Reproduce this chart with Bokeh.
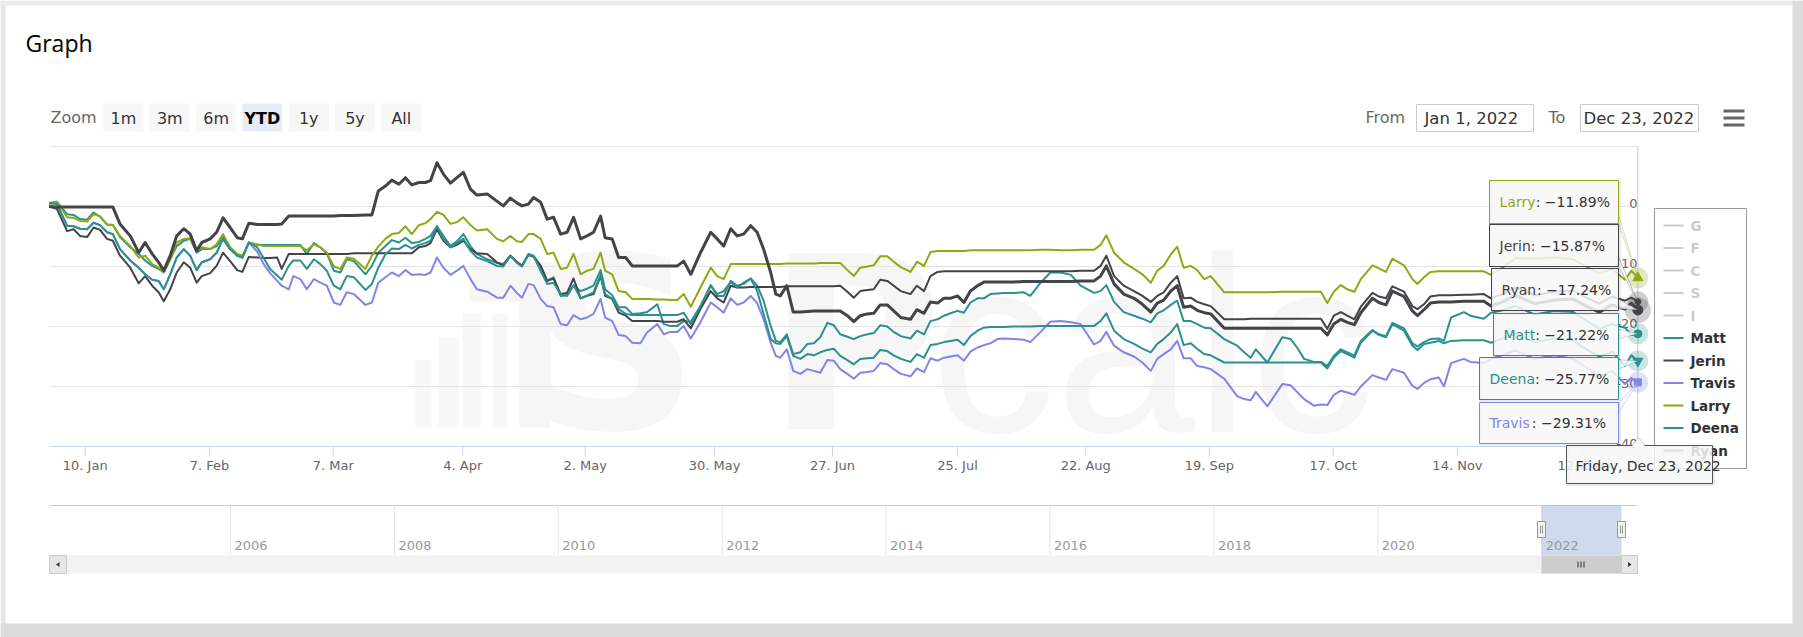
import math
from bokeh.plotting import figure
from bokeh.models import (Range1d, Label, BoxAnnotation, PolyAnnotation, ColumnDataSource)
from bokeh.embed import file_html
from bokeh.resources import INLINE
from bokeh.core.properties import value

# ---------------- data (trading-session index, % change YTD) ----------------
session = [
    -0.6, 0.6, 2.2, 3.2, 4.2, 5.3, 6.3, 7.3, 8.4, 9.3,
    10.4, 12.0, 13.3, 14.3, 15.4, 16.4, 17.2, 18.2, 19.2, 20.3,
    21.3, 22.3, 23.1, 24.4, 25.4, 26.4, 27.5, 28.6, 29.4, 30.4,
    31.7, 32.7, 33.7, 34.8, 35.5, 36.6, 37.3, 38.4, 39.4, 40.5,
    41.5, 42.5, 43.6, 44.6, 45.6, 46.7, 48.5, 49.5, 50.5, 51.6,
    52.6, 53.7, 54.7, 55.7, 56.8, 57.8, 58.6, 59.6, 60.6, 61.7,
    62.7, 63.7, 64.8, 65.8, 67.4, 68.9, 69.9, 71.0, 72.0, 72.8,
    73.8, 74.6, 75.7,
    76.7, 77.7, 78.8, 79.8, 80.8, 81.9, 82.9, 83.9, 85.0, 85.7,
    86.8, 87.8, 88.9, 89.9, 91.2, 92.2, 93.8, 94.8, 95.8, 96.9,
    97.9, 99.0, 100.5, 102.1, 103.1, 104.1, 105.2, 106.2, 107.2, 108.3,
    109.3, 110.3, 111.4, 112.2, 112.9, 113.9, 114.9, 116.0, 117.1, 118.1,
    119.1, 120.2, 121.2, 122.2, 123.3, 124.3, 125.3, 126.4, 127.4, 128.4,
    129.5, 130.5, 131.6, 133.1, 134.1, 135.2, 136.2, 137.3, 138.3, 139.3,
    140.4, 141.4, 142.4, 143.5, 144.5, 145.5, 146.6, 147.6, 149.1, 150.7,
    151.7, 153.3, 154.8,
    156.4, 158.0, 159.5, 161.6, 162.6, 163.5, 164.7, 166.2, 167.8, 169.1,
    170.4, 171.4, 172.4, 173.5, 174.5, 175.5, 176.6, 177.6, 178.7, 179.7,
    181.8, 183.8, 184.9, 185.9, 186.7, 188.5, 190.8, 192.1, 193.1, 194.2,
    195.7, 196.8, 197.8, 198.8, 199.9, 200.9, 202.0, 203.0, 204.8, 205.8,
    206.9, 207.9, 209.7, 211.0, 211.8, 212.8, 213.8, 215.1, 215.9, 217.0,
    219.0, 220.0, 222.1, 223.2,
    225, 227, 230, 233, 236, 238, 240, 242, 244, 245, 246,
]

matt = [
    0.6, 0.8, -1.3, -1.4, -2.1, -2.2, -1.0, -1.7, -3.0, -3.1,
    -5.1, -6.8, -7.9, -9.0, -9.9, -10.4, -11.0, -8.8, -6.6, -5.7,
    -5.4, -7.7, -7.1, -7.1, -6.6, -5.0, -7.1, -8.1, -8.5, -6.0,
    -6.4, -6.4, -6.4, -6.4, -6.4, -6.4, -6.4, -6.4, -7.9, -6.1,
    -6.8, -7.8, -10.7, -11.0, -8.8, -9.1, -11.3, -9.9, -7.7, -6.6,
    -5.6, -6.0, -5.2, -6.1, -5.9, -5.4, -4.9, -3.3, -4.9, -6.6,
    -5.8, -4.6, -6.6, -7.9, -8.8, -9.4, -9.6, -8.2, -9.3, -9.9,
    -7.9, -8.2, -9.9,
    -12.4, -11.8, -14.9, -14.8, -13.2, -14.1, -13.7, -13.2, -10.6, -13.8,
    -14.8, -16.8, -16.8, -17.9, -17.8, -17.6, -16.3, -19.6, -19.9, -19.9,
    -19.1, -19.2, -16.6, -13.1, -14.9, -14.9, -12.4, -13.2, -12.9, -12.0,
    -13.2, -15.7, -19.9, -22.4, -22.6, -21.3, -24.6, -24.3, -22.9, -22.8,
    -21.8, -19.4, -19.8, -21.3, -21.7, -22.1, -21.6, -21.3, -21.1, -19.8,
    -20.0, -20.9, -21.6, -22.0, -20.7, -21.3, -19.1, -18.8, -18.2, -17.8,
    -17.4, -17.7, -16.0, -15.3, -15.3, -14.6, -14.5, -14.4, -14.4, -14.3,
    -14.9, -12.7, -11.0,
    -11.0, -11.4, -13.2, -14.4, -14.1, -13.1, -15.9, -17.6, -18.2, -18.7,
    -19.3, -17.8, -17.3, -16.4, -15.7, -19.1, -19.1, -19.6, -20.2, -20.3,
    -22.1, -23.2, -24.3, -25.2, -23.8, -26.0, -21.8, -22.1, -23.5, -25.4,
    -25.9, -25.9, -26.6, -24.9, -23.8, -24.3, -24.8, -22.4, -20.6, -21.3,
    -21.6, -19.4, -20.3, -22.8, -23.3, -22.6, -22.1, -22.0, -22.4, -18.5,
    -17.6, -18.2, -18.7, -17.7,
    -17.3, -16.6, -18.0, -17.4, -17.6, -19.0, -20.4, -19.6, -20.2, -21.4, -21.22,
]

jerin = [
    0.0, -0.4, -4.1, -3.8, -4.9, -5.1, -3.5, -3.9, -5.4, -5.7,
    -8.2, -10.2, -12.8, -11.6, -13.2, -14.3, -15.8, -13.8, -11.0, -9.3,
    -10.2, -12.7, -11.6, -11.1, -9.9, -7.7, -9.1, -10.6, -10.9, -8.4,
    -8.5, -8.6, -8.6, -8.5, -10.4, -7.9, -7.9, -7.9, -7.9, -7.9,
    -7.9, -7.9, -7.9, -7.9, -7.9, -7.8, -7.8, -7.8, -7.8, -7.8,
    -7.8, -7.8, -7.8, -7.8, -6.8, -6.6, -6.1, -3.8, -5.7, -6.8,
    -6.4, -5.7, -7.1, -7.8, -7.9, -9.3, -9.8, -8.2, -9.2, -9.9,
    -8.1, -8.4, -9.9,
    -12.4, -12.0, -14.6, -14.4, -12.0, -15.3, -14.9, -14.6, -11.6, -14.9,
    -15.4, -17.7, -18.2, -19.1, -19.1, -19.1, -19.1, -19.2, -19.2, -19.2,
    -18.8, -20.3, -17.1, -14.1, -15.3, -16.0, -13.2, -13.5, -13.5, -13.4,
    -13.4, -13.4, -13.4, -13.4, -13.4, -13.3, -13.3, -13.3, -13.3, -13.3,
    -13.3, -13.3, -13.3, -13.2, -14.2, -15.2, -14.1, -13.9, -13.8, -12.2,
    -12.4, -13.2, -14.1, -14.6, -13.2, -14.1, -11.6, -10.9, -10.8, -10.8,
    -10.8, -10.8, -10.8, -10.8, -10.8, -10.8, -10.8, -10.8, -10.8, -10.8,
    -10.8, -10.8, -10.8,
    -10.8, -10.8, -10.7, -10.7, -9.9, -8.2, -11.6, -13.2, -14.1, -14.9,
    -15.9, -14.9, -14.3, -12.7, -11.6, -15.3, -15.2, -15.9, -16.3, -16.6,
    -18.8, -18.8, -18.8, -18.7, -18.7, -18.7, -18.7, -18.7, -18.7, -18.7,
    -18.7, -18.7, -20.4, -18.2, -17.6, -18.2, -18.8, -16.7, -14.4, -15.0,
    -15.3, -13.3, -14.2, -16.6, -17.1, -16.3, -15.0, -14.8, -14.8, -14.8,
    -14.7, -14.7, -14.6, -15.3,
    -14.6, -13.5, -14.8, -14.2, -14.0, -15.2, -16.2, -15.0, -15.7, -15.2, -15.87,
]

travis = [
    0.6, 0.4, -3.2, -3.3, -3.7, -3.8, -2.7, -3.1, -4.3, -4.6,
    -7.1, -9.0, -10.2, -11.3, -12.2, -12.4, -13.8, -11.3, -8.5, -7.1,
    -8.2, -10.6, -9.3, -8.8, -7.7, -5.4, -7.1, -8.2, -8.5, -6.0,
    -7.5, -9.6, -11.1, -12.4, -13.2, -13.8, -11.6, -12.1, -13.8, -12.1,
    -12.7, -13.2, -16.0, -16.4, -14.3, -14.6, -16.4, -16.0, -12.7, -11.8,
    -11.0, -11.6, -10.6, -11.4, -11.3, -11.4, -11.0, -8.5, -10.2, -11.4,
    -10.7, -9.9, -12.1, -13.8, -14.2, -15.2, -15.2, -13.2, -14.4, -15.2,
    -12.9, -13.1, -15.4,
    -16.6, -16.8, -19.6, -19.8, -18.1, -18.8, -18.5, -17.9, -15.4, -18.5,
    -19.1, -21.4, -21.6, -22.7, -22.8, -21.0, -19.6, -21.3, -20.9, -20.9,
    -19.9, -22.0, -19.3, -16.0, -16.8, -17.7, -15.3, -16.4, -16.0, -14.9,
    -16.1, -18.8, -22.7, -24.9, -25.2, -23.8, -27.4, -27.9, -27.1, -27.4,
    -27.7, -25.6, -25.7, -27.1, -27.9, -28.7, -27.7, -27.6, -27.4, -26.1,
    -26.3, -27.1, -27.9, -28.3, -27.0, -27.6, -25.3, -25.7, -25.2, -25.0,
    -24.8, -25.7, -24.2, -23.5, -23.1, -22.8, -22.1, -22.0, -22.1, -22.2,
    -22.6, -20.9, -19.2,
    -19.1, -19.3, -19.6, -23.0, -22.4, -20.9, -23.2, -24.3, -25.0, -26.0,
    -27.4, -25.4, -24.6, -23.8, -22.4, -25.3, -25.3, -26.6, -26.8, -27.1,
    -28.7, -31.6, -32.1, -32.3, -30.9, -33.3, -29.6, -29.8, -30.9, -32.1,
    -33.2, -33.0, -33.1, -31.4, -30.7, -31.0, -31.4, -30.0, -28.1, -28.5,
    -28.9, -27.1, -27.7, -29.9, -30.4, -29.4, -28.8, -28.5, -30.0, -26.1,
    -25.4, -25.9, -26.1, -25.4,
    -24.8, -24.0, -25.4, -24.8, -25.4, -26.8, -28.2, -27.4, -29.6, -28.6, -29.31,
]

larry = [
    0.4, 0.8, -1.8, -1.9, -2.4, -2.5, -1.3, -1.6, -3.0, -3.1,
    -4.9, -6.6, -8.5, -8.2, -9.6, -10.2, -10.9, -8.8, -6.0, -5.4,
    -5.3, -7.3, -6.8, -7.1, -6.3, -4.6, -6.8, -7.9, -8.2, -6.1,
    -6.3, -6.6, -6.6, -6.6, -6.6, -6.6, -6.6, -6.6, -7.3, -6.3,
    -6.8, -7.7, -10.0, -10.4, -8.5, -8.7, -10.4, -8.2, -6.7, -5.4,
    -4.6, -4.4, -3.3, -4.6, -3.1, -2.8, -2.1, -0.9, -1.4, -2.9,
    -2.6, -1.8, -3.1, -4.0, -3.8, -5.4, -5.8, -4.9, -5.8, -5.9,
    -4.6, -4.6, -5.4,
    -7.9, -7.7, -10.4, -10.2, -7.9, -11.3, -10.7, -10.4, -7.7, -10.7,
    -11.3, -14.1, -14.3, -15.4, -15.4, -15.4, -15.5, -15.5, -15.6, -15.6,
    -14.6, -16.7, -13.5, -10.2, -11.6, -12.1, -9.6, -9.6, -9.6, -9.6,
    -9.6, -9.6, -9.6, -9.6, -9.6, -9.5, -9.5, -9.5, -9.5, -9.5,
    -9.4, -9.4, -9.4, -9.4, -10.6, -11.6, -10.2, -10.0, -9.8, -8.3,
    -8.3, -9.2, -10.1, -10.9, -9.2, -9.9, -7.6, -7.4, -7.4, -7.4,
    -7.4, -7.4, -7.3, -7.3, -7.3, -7.3, -7.3, -7.3, -7.3, -7.3,
    -7.3, -7.2, -7.2,
    -7.3, -7.3, -7.2, -7.2, -6.4, -4.8, -7.7, -9.3, -10.4, -11.3,
    -12.7, -10.7, -9.9, -8.0, -6.7, -10.2, -9.9, -10.6, -12.1, -11.6,
    -14.3, -14.3, -14.3, -14.3, -14.3, -14.3, -14.2, -14.2, -14.2, -14.2,
    -14.2, -14.2, -16.1, -14.2, -13.1, -13.8, -14.2, -12.1, -9.8, -10.3,
    -10.9, -8.7, -9.8, -12.1, -12.9, -11.8, -10.9, -10.8, -10.8, -10.8,
    -10.8, -10.8, -10.8, -11.4,
    -10.2, -8.6, -8.7, -8.5, -8.8, -10.0, -11.2, -10.4, -12.2, -10.7, -11.89,
]

deena = [
    0.6, 0.4, -3.2, -3.3, -3.7, -3.8, -2.7, -3.1, -4.3, -4.6,
    -7.1, -9.0, -10.2, -11.3, -12.2, -12.4, -13.8, -11.3, -8.5, -7.1,
    -8.2, -10.6, -9.3, -8.8, -7.7, -5.4, -7.1, -8.2, -8.5, -6.0,
    -6.8, -8.6, -10.4, -11.5, -12.2, -9.9, -9.0, -9.0, -10.4, -8.8,
    -9.6, -10.7, -13.2, -13.8, -11.6, -11.8, -13.9, -12.9, -10.2, -8.0,
    -7.0, -7.1, -6.4, -7.0, -6.4, -6.1, -5.7, -3.3, -5.4, -6.8,
    -6.1, -5.4, -7.4, -8.5, -9.1, -9.9, -10.0, -8.2, -9.4, -10.0,
    -8.0, -8.3, -10.7,
    -12.9, -12.7, -14.6, -14.9, -13.1, -15.3, -14.8, -14.3, -11.4, -14.6,
    -15.4, -17.1, -17.9, -18.1, -18.1, -18.1, -18.1, -18.1, -18.1, -18.1,
    -17.7, -19.6, -16.6, -13.2, -14.6, -14.1, -12.6, -13.5, -12.7, -12.0,
    -14.1, -17.9, -22.1, -22.8, -22.9, -21.6, -24.9, -25.4, -24.6, -24.8,
    -24.3, -23.9, -23.7, -24.9, -25.6, -26.3, -25.4, -25.3, -25.2, -23.9,
    -24.1, -24.8, -25.4, -25.9, -24.6, -25.2, -23.1, -22.9, -22.6, -22.4,
    -22.2, -23.1, -21.6, -20.7, -20.2, -20.1, -20.1, -20.1, -20.0, -20.0,
    -20.0, -19.9, -19.9,
    -19.9, -19.9, -19.9, -19.9, -19.1, -17.8, -20.7, -22.1, -22.9, -23.7,
    -24.3, -22.9, -22.1, -21.0, -19.6, -23.1, -22.8, -23.7, -24.6, -24.8,
    -26.0, -26.0, -26.0, -26.0, -26.0, -26.0, -26.0, -26.0, -26.0, -26.0,
    -26.0, -26.0, -27.0, -25.2, -24.1, -24.6, -25.2, -22.7, -20.7, -21.4,
    -21.8, -19.6, -20.7, -23.2, -23.9, -22.9, -22.7, -22.4, -22.8, -22.4,
    -22.3, -22.3, -22.3, -22.7,
    -22.0, -21.2, -22.6, -22.0, -22.4, -23.8, -25.0, -24.2, -26.6, -24.8, -25.77,
]

ryan = [
    0.0, -0.1, -0.1, -0.1, -0.1, -0.1, -0.1, -0.1, -0.1, -0.1,
    -2.9, -4.9, -7.7, -6.0, -7.9, -9.3, -10.7, -8.2, -4.9, -3.7,
    -4.6, -7.4, -6.0, -5.4, -4.3, -1.9, -3.5, -5.2, -5.4, -2.8,
    -3.0, -3.0, -3.0, -3.0, -2.9, -1.6, -1.6, -1.6, -1.6, -1.6,
    -1.6, -1.6, -1.6, -1.5, -1.5, -1.5, -1.4, -1.4, 2.6, 3.4,
    4.4, 3.7, 4.8, 3.6, 4.0, 4.0, 4.3, 7.3, 5.4, 3.9,
    4.8, 5.7, 2.9, 1.9, 2.1, 0.9, 0.1, 1.4, 0.6, 0.1,
    0.4, 1.5, 0.7,
    -2.1, -1.8, -4.6, -4.3, -1.8, -5.4, -4.9, -4.3, -1.6, -5.2,
    -5.4, -8.5, -8.5, -9.9, -9.9, -9.9, -9.9, -9.9, -9.9, -9.9,
    -9.1, -11.3, -7.7, -4.3, -5.4, -6.6, -3.7, -4.9, -4.6, -3.2,
    -4.3, -7.1, -11.0, -14.6, -14.9, -13.2, -17.6, -17.6, -17.5, -17.4,
    -17.4, -17.4, -17.4, -17.4, -18.2, -19.2, -18.2, -17.9, -17.8, -16.4,
    -16.4, -17.4, -18.5, -18.8, -17.2, -17.8, -15.9, -16.1, -15.3, -15.3,
    -14.9, -16.0, -14.1, -13.2, -12.6, -12.6, -12.6, -12.6, -12.6, -12.5,
    -12.5, -12.5, -12.5,
    -12.5, -12.5, -12.4, -12.4, -11.6, -9.9, -12.9, -14.6, -15.3, -16.3,
    -17.6, -16.1, -15.6, -14.1, -13.2, -16.8, -16.6, -17.3, -17.7, -17.9,
    -20.3, -20.3, -20.3, -20.3, -20.3, -20.3, -20.3, -20.3, -20.3, -20.3,
    -20.3, -20.3, -21.4, -19.6, -18.8, -19.3, -19.7, -17.7, -15.3, -16.0,
    -16.4, -14.1, -15.0, -17.4, -18.2, -17.2, -16.1, -15.9, -15.9, -15.9,
    -15.8, -15.8, -15.8, -16.6,
    -15.9, -14.8, -16.2, -15.6, -15.4, -16.6, -17.6, -16.4, -17.1, -16.1, -17.24,
]

tick_session = [5.0, 24.3, 43.5, 63.6, 82.6, 102.7, 121.0, 140.4, 160.3, 179.5, 198.7, 218.0, 237.4]
tick_labels = ["10. Jan", "7. Feb", "7. Mar", "4. Apr", "2. May", "30. May", "27. Jun",
               "25. Jul", "22. Aug", "19. Sep", "17. Oct", "14. Nov", "12. Dec"]
y_label_ticks = [0, -10, -20, -30, -40]
y_grid_ticks = [10, 0, -10, -20, -30, -40]
legend_names = ["G", "F", "C", "S", "I", "Matt", "Jerin", "Travis", "Larry", "Deena", "Ryan"]
legend_shown = [False, False, False, False, False, True, True, True, True, True, True]
nav_years = [2006, 2008, 2010, 2012, 2014, 2016, 2018, 2020, 2022]
zoom_buttons = ["1m", "3m", "6m", "YTD", "1y", "5y", "All"]
from_date, to_date = "Jan 1, 2022", "Dec 23, 2022"
hover_date = "Friday, Dec 23, 2022"

n = len(session)
for nm, arr in [("matt", matt), ("jerin", jerin), ("travis", travis), ("larry", larry),
                ("deena", deena), ("ryan", ryan)]:
    assert len(arr) == n, (nm, len(arr), n)

# ---------------- styling / layout ----------------
OLIVE, TEAL, DARK, PURPLE = "#8cab12", "#2b908f", "#434348", "#8085e9"
COLORS = {"Matt": TEAL, "Jerin": DARK, "Travis": PURPLE, "Larry": OLIVE, "Deena": TEAL, "Ryan": DARK}
FONT = "DejaVu Sans"

W, H = 1803, 637
L, R, T, B = 49, 1638, 146, 446          # plot area on the page
X0, X1 = -0.54, 246.1                     # session range shown in plot area
Y0, Y1 = -40.0, 10.0
KX = (R - L) / (X1 - X0)
KY = (B - T) / (Y1 - Y0)


def dx(px):
    return X0 + (px - L) / KX


def dy(py):
    return Y1 - (py - T) / KY


# the frame covers the whole page; ranges are set so that the plot area sits at L..R / T..B
p = figure(width=W, height=H, x_range=Range1d(dx(0), dx(W)), y_range=Range1d(dy(H), dy(0)),
           x_axis_location=None, y_axis_location=None, output_backend="svg",
           toolbar_location=None, min_border=0)
p.min_border_left = p.min_border_right = p.min_border_top = p.min_border_bottom = 0
p.title.visible = False
p.xgrid.visible = False
p.ygrid.visible = False
p.background_fill_color = "white"
p.border_fill_color = "white"
p.outline_line_color = None


def box(x1, y1, x2, y2, fill=None, alpha=1.0, line=None, lw=1, level="annotation", line_alpha=1.0):
    p.add_layout(BoxAnnotation(left=dx(x1), right=dx(x2), top=dy(y1), bottom=dy(y2),
                               fill_color=fill, fill_alpha=alpha if fill else 0.0,
                               line_color=line, line_width=lw, line_alpha=line_alpha,
                               level=level))


def label(px, py, text, size="14px", color="#333333", align="left", baseline="middle",
          font=FONT, style="normal", level="annotation", lh=1.2):
    p.add_layout(Label(x=dx(px), y=dy(py), text=text, text_font_size=size, text_color=color,
                       text_align=align, text_baseline=baseline, text_font=font,
                       text_font_style=style, level=level, text_line_height=lh))


def poly_px(pts, fill, alpha=1.0, line=None, lw=1, level="annotation"):
    p.add_layout(PolyAnnotation(xs=[dx(a) for a, b in pts], ys=[dy(b) for a, b in pts],
                                fill_color=fill, fill_alpha=alpha, line_color=line,
                                line_width=lw, level=level))


# page shadow edges
box(0, 0, 5, H, fill="#e6e6e6", level="underlay")
box(0, 0, W, 5, fill="#ececec", level="underlay")
box(1792, 0, W, H, fill="#dcdcdc", level="underlay")
box(0, 623, W, H, fill="#dcdcdc", level="underlay")

# watermark
WM = "#f6f6f6"
for (a, b, c, d) in [(415, 360, 431, 427), (438, 337, 458, 427), (462, 313, 480, 427), (492, 313, 507, 427)]:
    box(a, b, c, d, fill="#f8f8f8", level="underlay")
box(469, 262, 557, 301, fill=WM, level="underlay")
box(519, 301, 550, 427, fill=WM, level="underlay")
label(526, 345, "S", size="240px", color=WM, style="bold", level="underlay", lh=1.0)
label(766, 345, "P", size="240px", color=WM, style="bold", level="underlay", lh=1.0)
label(930, 345, "calc", size="250px", color=WM, font="Liberation Sans", level="underlay", lh=1.0)

# horizontal grid lines and y labels (inside plot, right aligned)
p.segment(x0=[X0] * len(y_grid_ticks), x1=[X1] * len(y_grid_ticks), y0=y_grid_ticks, y1=y_grid_ticks,
          line_color="#e6e6e6", line_width=1)
ysrc = ColumnDataSource(dict(x=[X1] * len(y_label_ticks), y=y_label_ticks,
                             t=[str(v) for v in y_label_ticks]))
p.text(x="x", y="y", text="t", source=ysrc, text_align="right", text_baseline="alphabetic",
       x_offset=-1, y_offset=-3, text_font=value(FONT), text_font_size="13px", text_color="#666666")

# x axis: line, ticks, labels
p.segment(x0=[X0], x1=[X1], y0=[Y0], y1=[Y0], line_color="#ccd6eb", line_width=1)
tick_len = 10 / KY
p.segment(x0=tick_session, x1=tick_session, y0=[Y0] * len(tick_session),
          y1=[Y0 - tick_len] * len(tick_session), line_color="#ccd6eb", line_width=1)
tsrc = ColumnDataSource(dict(x=tick_session, y=[Y0] * len(tick_session), t=tick_labels))
p.text(x="x", y="y", text="t", source=tsrc, text_align="center", text_baseline="middle",
       y_offset=19, text_font=value(FONT), text_font_size="13px", text_color="#666666")

# crosshair at hovered point
xl = session[-1]
p.segment(x0=[xl], x1=[xl], y0=[Y0], y1=[Y1], line_color="#cccccc", line_width=1)

# series (draw order as in legend)
series = [("Matt", matt, 2), ("Jerin", jerin, 2), ("Travis", travis, 2),
          ("Larry", larry, 2), ("Deena", deena, 2), ("Ryan", ryan, 3)]
src = ColumnDataSource(dict(s=session, Matt=matt, Jerin=jerin, Travis=travis,
                            Larry=larry, Deena=deena, Ryan=ryan))
for nm, arr, lw in series:
    p.line(x="s", y=nm, source=src, line_color=COLORS[nm], line_width=lw, line_join="round")

# halos and markers at the hovered (last) point
for nm, arr, lw in series:
    size = 26 if nm == "Ryan" else 21
    p.scatter(x=[xl], y=[arr[-1]], marker="circle", size=size, fill_color=COLORS[nm],
              fill_alpha=0.25, line_color=None)
p.scatter(x=[xl], y=[larry[-1]], marker="triangle", size=10, fill_color=OLIVE, line_color=OLIVE)
p.scatter(x=[xl], y=[deena[-1]], marker="inverted_triangle", size=10, fill_color=TEAL, line_color=TEAL)
p.scatter(x=[xl], y=[travis[-1]], marker="square", size=7, fill_color=PURPLE, line_color=PURPLE)
p.scatter(x=[xl], y=[matt[-1]], marker="circle", size=8, fill_color=TEAL, line_color=TEAL)
p.scatter(x=[xl], y=[jerin[-1]], marker="circle", size=6, fill_color=DARK, line_color=DARK)
p.scatter(x=[xl], y=[ryan[-1]], marker="circle", size=10, fill_color=DARK, line_color=DARK)

# split tooltips
CW = {" ": 318, ":": 337, ".": 318, ",": 318, "%": 950, "\u2212": 838, "L": 557, "J": 295, "R": 695,
      "M": 863, "D": 770, "T": 611, "a": 613, "r": 411, "y": 592, "e": 615, "i": 278, "n": 634,
      "t": 392, "v": 592, "s": 521}


def tw(s, size):
    return sum(CW.get(ch, 636) for ch in s) * size / 1000.0


tips = [("Larry", larry, 1489, 180, 223), ("Jerin", jerin, 1489, 224, 266),
        ("Ryan", ryan, 1491, 268, 310), ("Matt", matt, 1493, 313, 355),
        ("Deena", deena, 1479, 357, 399), ("Travis", travis, 1479, 402, 443)]
TR = 1618
for nm, arr, lft, top, bot in tips:
    col = COLORS[nm]
    py = T + (Y1 - arr[-1]) * KY
    c = min(max(py, top + 7), bot - 7)
    p.add_layout(PolyAnnotation(xs=[dx(TR - 1), xl, dx(TR - 1)], ys=[dy(c - 5), arr[-1], dy(c + 5)],
                                fill_color="#f7f7f7", fill_alpha=0.85, line_color=col, line_width=1))
    box(lft + 1, top + 1, TR + 1, bot + 1, line="#000000", lw=3, line_alpha=0.08)
    box(lft, top, TR, bot, fill="#f7f7f7", alpha=0.85, line=col, lw=1)
    ty = (top + bot) / 2.0
    label(lft + 10, ty, nm, color=col)
    label(lft + 10 + tw(nm, 14), ty, ": \u2212%.2f%%" % abs(arr[-1]), color="#333333")

# legend
box(1654, 208, 1746, 468, fill="white", line="#999999", lw=1)
for i, (nm, shown) in enumerate(zip(legend_names, legend_shown)):
    yy = 225 + 22.5 * i
    col = COLORS[nm] if shown else "#cccccc"
    box(1663, yy - 1, 1683, yy + 1, fill=col)
    label(1690, yy, nm, size="13.5px", color="#333333" if shown else "#cccccc", style="bold")

# date header tooltip
box(1567, 446, 1713, 484, line="#000000", lw=3, line_alpha=0.08)
poly_px([(1631, 445.5), (1638, 437), (1645, 445.5)], "#f7f7f7", line="#555555")
box(1566, 445, 1712, 483, fill="#f7f7f7", alpha=0.85, line="#555555", lw=1)
box(1632, 444.5, 1644, 446.5, fill="#f7f7f7")
label(1575, 465, hover_date, color="#333333")

# title
label(25, 42, "Graph", size="23px", color="#000000", font="Open Sans")

# range selector
label(50, 117, "Zoom", size="16px", color="#666666")
for i, t in enumerate(zoom_buttons):
    x1 = 103 + 46.3 * i
    sel = (t == "YTD")
    box(x1, 103, x1 + 40, 131, fill="#e6ebf5" if sel else "#f7f7f7")
    label(x1 + 20, 117.5, t, size="16px", color="#000000" if sel else "#333333", align="center",
          style="bold" if sel else "normal")

label(1365, 117, "From", size="16px", color="#666666")
box(1416, 104, 1533, 131, fill="white", line="#cccccc")
label(1424, 117.5, from_date, size="16.5px", color="#333333")
label(1548, 117, "To", size="16px", color="#666666")
box(1580, 104, 1698, 131, fill="white", line="#cccccc")
label(1583, 117.5, to_date, size="16.5px", color="#333333")
for yy in (110.5, 117.5, 124.5):
    box(1723, yy - 1.6, 1744, yy + 1.6, fill="#666666")

# navigator
NAV_T, NAV_B = 505, 555
box(49, NAV_T - 0.5, 1637, NAV_T + 0.5, fill="#cccccc")
for yr in nav_years:
    gx = 230 + (yr - 2006) * 81.95
    box(gx - 0.5, NAV_T, gx + 0.5, NAV_B, fill="#e6e6e6")
SEL_L, SEL_R = 1541, 1621
box(SEL_L, NAV_T, SEL_R, NAV_B, fill="#6685c2", alpha=0.3)
for yr in nav_years:
    gx = 230 + (yr - 2006) * 81.95
    label(gx + 4, 545, str(yr), size="13px", color="#999999")
for hx in (SEL_L, SEL_R):
    box(hx - 4, 521, hx + 4, 537, fill="#f2f2f2", line="#999999")
    box(hx - 1.5, 525, hx - 0.5, 533, fill="#999999")
    box(hx + 0.5, 525, hx + 1.5, 533, fill="#999999")
# scrollbar
box(49, 555, 1637, 573, fill="#f2f2f2")
box(SEL_L, 555, SEL_R, 573, fill="#cccccc")
for gx in (1577.5, 1580.5, 1583.5):
    box(gx - 0.5, 561, gx + 0.5, 567, fill="#333333")
box(49, 555, 66, 573, fill="#e6e6e6", line="#cccccc")
box(1621, 555, 1637, 573, fill="#e6e6e6", line="#cccccc")
poly_px([(55.5, 564), (59, 561.5), (59, 566.5)], "#333333")
poly_px([(1631, 564), (1627.5, 561.5), (1627.5, 566.5)], "#333333")

with open("out.html", "w") as f:
    f.write(file_html(p, INLINE, "Graph"))
